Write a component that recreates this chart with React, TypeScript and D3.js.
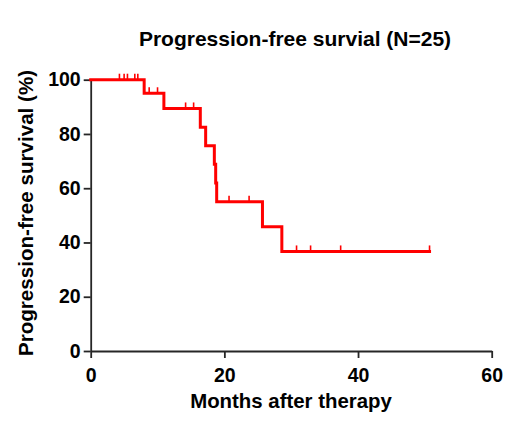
import React, { useEffect, useRef } from "react";
import * as d3 from "d3";

// Kaplan-Meier step points (months, survival %)
const stepTimes = [0, 8.0, 10.95, 16.4, 17.2, 18.5, 18.7, 18.85, 25.7, 28.6, 50.7];
const stepSurv = [100, 95.0, 89.4, 82.5, 75.7, 68.8, 61.9, 55.0, 45.8, 36.7, 36.7];

// Censored observations (months, survival %)
const censorTimes = [4.3, 5.0, 5.5, 6.6, 7.05, 8.75, 10.0, 14.2, 15.4, 20.7, 23.7, 30.8, 32.9, 37.4, 50.7];
const censorSurv = [100, 100, 100, 100, 100, 95.0, 95.0, 89.4, 89.4, 55.0, 55.0, 36.7, 36.7, 36.7, 36.7];

const xTicks = [0, 20, 40, 60];
const yTicks = [0, 20, 40, 60, 80, 100];

const title = "Progression-free survial (N=25)";
const xTitle = "Months after therapy";
const yTitle = "Progression-free survival (%)";

const FONT = "'Liberation Sans', Arial, Helvetica, sans-serif";

export default function App() {
  const ref = useRef<SVGSVGElement | null>(null);

  useEffect(() => {
    const svg = d3.select(ref.current);
    svg.selectAll("*").remove();

    const x = d3.scaleLinear().domain([0, 60]).range([90.7, 491.7]);
    const y = d3.scaleLinear().domain([0, 100]).range([351, 79.7]);

    const axisColor = "#262626";

    // X axis
    const gx = svg
      .append("g")
      .attr("transform", `translate(0,${y(0)})`)
      .call(
        d3
          .axisBottom(x)
          .tickValues(xTicks)
          .tickSize(7)
          .tickSizeOuter(0)
          .tickPadding(10)
          .tickFormat(d3.format("d") as any)
      );
    gx.select(".domain").attr("stroke", axisColor).attr("stroke-width", 1.8);
    gx.selectAll(".tick line").attr("stroke", axisColor).attr("stroke-width", 1.8);
    gx.selectAll(".tick text")
      .attr("fill", "#000")
      .style("font-family", FONT)
      .style("font-size", "19.5px")
      .style("font-weight", "bold");

    // Y axis
    const gy = svg
      .append("g")
      .attr("transform", `translate(${x(0)},0)`)
      .call(
        d3
          .axisLeft(y)
          .tickValues(yTicks)
          .tickSize(7)
          .tickSizeOuter(0)
          .tickPadding(3)
          .tickFormat(d3.format("d") as any)
      );
    gy.select(".domain").attr("stroke", axisColor).attr("stroke-width", 1.8);
    gy.selectAll(".tick line").attr("stroke", axisColor).attr("stroke-width", 1.8);
    gy.selectAll(".tick text")
      .attr("fill", "#000")
      .style("font-family", FONT)
      .style("font-size", "19.5px")
      .style("font-weight", "bold");

    // KM curve
    const pts: [number, number][] = stepTimes.map((t, i) => [t, stepSurv[i]]);
    const line = d3
      .line<[number, number]>()
      .x((d) => x(d[0]))
      .y((d) => y(d[1]))
      .curve(d3.curveStepAfter);
    svg
      .append("path")
      .attr("d", line(pts) || "")
      .attr("fill", "none")
      .attr("stroke", "#ff0000")
      .attr("stroke-width", 3)
      .attr("stroke-linejoin", "miter")
      .attr("stroke-linecap", "square");

    // Censor marks
    svg
      .append("g")
      .selectAll("line")
      .data(censorTimes.map((t, i) => [t, censorSurv[i]]))
      .join("line")
      .attr("x1", (d) => x(d[0]))
      .attr("x2", (d) => x(d[0]))
      .attr("y1", (d) => y(d[1]))
      .attr("y2", (d) => y(d[1]) - 6)
      .attr("stroke", "#ff0000")
      .attr("stroke-width", 1.6);

    // Titles
    svg
      .append("text")
      .attr("x", 295)
      .attr("y", 46)
      .attr("text-anchor", "middle")
      .style("font-family", FONT)
      .style("font-size", "21px")
      .style("font-weight", "bold")
      .text(title);

    svg
      .append("text")
      .attr("x", 291)
      .attr("y", 408)
      .attr("text-anchor", "middle")
      .style("font-family", FONT)
      .style("font-size", "20.4px")
      .style("font-weight", "bold")
      .text(xTitle);

    svg
      .append("text")
      .attr("transform", `translate(33,213) rotate(-90)`)
      .attr("text-anchor", "middle")
      .style("font-family", FONT)
      .style("font-size", "20.6px")
      .style("font-weight", "bold")
      .text(yTitle);
  }, []);

  return (
    <svg
      ref={ref}
      width={529}
      height={431}
      style={{ position: "absolute", left: 0, top: 0, background: "#fff" }}
    />
  );
}
